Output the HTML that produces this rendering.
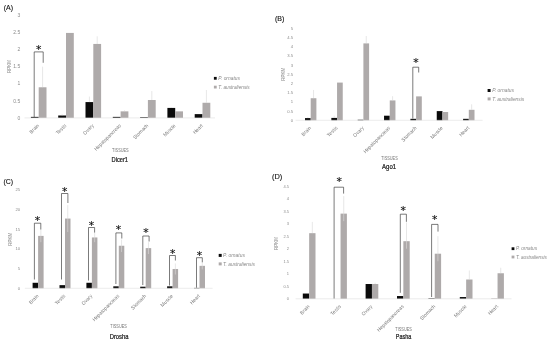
<!DOCTYPE html>
<html><head><meta charset="utf-8"><title>Figure</title>
<style>
html,body{margin:0;padding:0;background:#fff;}
body{width:550px;height:343px;overflow:hidden;}
svg{display:block;}
text{font-family:"Liberation Sans",sans-serif;}
.st{font-family:"DejaVu Sans","Liberation Sans",sans-serif;font-size:10.8px;fill:#111;stroke:#111;stroke-width:0.15px;}
</style></head><body>
<svg width="550" height="343" viewBox="0 0 550 343">
<rect width="550" height="343" fill="#fff"/>
<text x="3.8" y="10.3" font-size="7.3" textLength="9.3" lengthAdjust="spacingAndGlyphs" fill="#111" stroke="#111" stroke-width="0.12">(A)</text>
<text x="20.2" y="119.70" font-size="5.0" fill="#8c8c8c" text-anchor="end">0</text>
<text x="20.2" y="102.50" font-size="5.0" fill="#8c8c8c" text-anchor="end">0.5</text>
<text x="20.2" y="85.30" font-size="5.0" fill="#8c8c8c" text-anchor="end">1</text>
<text x="20.2" y="68.10" font-size="5.0" fill="#8c8c8c" text-anchor="end">1.5</text>
<text x="20.2" y="50.90" font-size="5.0" fill="#8c8c8c" text-anchor="end">2</text>
<text x="20.2" y="33.70" font-size="5.0" fill="#8c8c8c" text-anchor="end">2.5</text>
<text x="20.2" y="16.50" font-size="5.0" fill="#8c8c8c" text-anchor="end">3</text>
<text transform="translate(10.8,66.5) rotate(-90)" font-size="4.5" fill="#8c8c8c" text-anchor="middle">RPKM</text>
<rect x="30.90" y="116.87" width="7.8" height="1.03" fill="#0a0a0a"/>
<rect x="38.70" y="87.28" width="7.8" height="30.62" fill="#aeaaaa"/>
<rect x="58.20" y="115.49" width="7.8" height="2.41" fill="#0a0a0a"/>
<rect x="66.00" y="32.93" width="7.8" height="84.97" fill="#aeaaaa"/>
<rect x="85.50" y="102.08" width="7.8" height="15.82" fill="#0a0a0a"/>
<rect x="93.30" y="43.94" width="7.8" height="73.96" fill="#aeaaaa"/>
<rect x="112.80" y="116.87" width="7.8" height="1.03" fill="#0a0a0a"/>
<rect x="120.60" y="111.36" width="7.8" height="6.54" fill="#aeaaaa"/>
<rect x="140.10" y="117.21" width="7.8" height="0.69" fill="#0a0a0a"/>
<rect x="147.90" y="100.01" width="7.8" height="17.89" fill="#aeaaaa"/>
<rect x="167.40" y="107.92" width="7.8" height="9.98" fill="#0a0a0a"/>
<rect x="175.20" y="111.36" width="7.8" height="6.54" fill="#aeaaaa"/>
<rect x="194.70" y="114.12" width="7.8" height="3.78" fill="#0a0a0a"/>
<rect x="202.50" y="102.76" width="7.8" height="15.14" fill="#aeaaaa"/>
<line x1="24.5" y1="117.9" x2="215" y2="117.9" stroke="#d9d9d9" stroke-width="0.5"/>
<line x1="42.60" y1="66.64" x2="42.60" y2="87.28" stroke="#cfcfcf" stroke-width="0.5"/>
<line x1="97.20" y1="36.37" x2="97.20" y2="43.94" stroke="#cfcfcf" stroke-width="0.5"/>
<line x1="89.40" y1="96.57" x2="89.40" y2="102.08" stroke="#cfcfcf" stroke-width="0.5"/>
<line x1="151.80" y1="91.07" x2="151.80" y2="100.01" stroke="#cfcfcf" stroke-width="0.5"/>
<line x1="206.40" y1="90.04" x2="206.40" y2="102.76" stroke="#cfcfcf" stroke-width="0.5"/>
<line x1="124.50" y1="110.33" x2="124.50" y2="111.36" stroke="#cfcfcf" stroke-width="0.5"/>
<line x1="62.10" y1="114.12" x2="62.10" y2="115.49" stroke="#cfcfcf" stroke-width="0.5"/>
<line x1="171.30" y1="107.24" x2="171.30" y2="107.92" stroke="#cfcfcf" stroke-width="0.5"/>
<text transform="translate(39.50,126.00) rotate(-45) scale(0.95,1)" font-size="5.1" fill="#777777" text-anchor="end">Brain</text>
<text transform="translate(66.80,126.00) rotate(-45) scale(0.95,1)" font-size="5.1" fill="#777777" text-anchor="end">Testis</text>
<text transform="translate(94.10,126.00) rotate(-45) scale(0.95,1)" font-size="5.1" fill="#777777" text-anchor="end">Ovary</text>
<text transform="translate(121.40,126.00) rotate(-45) scale(0.95,1)" font-size="5.1" fill="#777777" text-anchor="end">Hepatopancreas</text>
<text transform="translate(148.70,126.00) rotate(-45) scale(0.95,1)" font-size="5.1" fill="#777777" text-anchor="end">Stomach</text>
<text transform="translate(176.00,126.00) rotate(-45) scale(0.95,1)" font-size="5.1" fill="#777777" text-anchor="end">Muscle</text>
<text transform="translate(203.30,126.00) rotate(-45) scale(0.95,1)" font-size="5.1" fill="#777777" text-anchor="end">Heart</text>
<text x="120.4" y="152" font-size="4.6" textLength="16.6" lengthAdjust="spacingAndGlyphs" fill="#777777" text-anchor="middle">TISSUES</text>
<text x="119.8" y="162.1" font-size="6.6" textLength="16.5" lengthAdjust="spacingAndGlyphs" fill="#1a1a1a" stroke="#1a1a1a" stroke-width="0.22" text-anchor="middle">Dicer1</text>
<rect x="213.9" y="76.90" width="2.8" height="2.8" fill="#0a0a0a"/>
<text x="218.3" y="80.00" font-size="4.9" textLength="21.6" lengthAdjust="spacingAndGlyphs" font-style="italic" fill="#888888">P. ornatus</text>
<rect x="213.9" y="85.70" width="2.8" height="2.8" fill="#aeaaaa"/>
<text x="218.3" y="88.80" font-size="4.9" textLength="31.4" lengthAdjust="spacingAndGlyphs" font-style="italic" fill="#888888">T. australiensis</text>
<path d="M34.2,117 V51.9 H43.2 V62.8" fill="none" stroke="#333" stroke-width="0.65"/>
<text class="st" x="38.7" y="52.82" text-anchor="middle">*</text>
<text x="275" y="20.7" font-size="7.3" textLength="9.4" lengthAdjust="spacingAndGlyphs" fill="#111" stroke="#111" stroke-width="0.12">(B)</text>
<text x="293.1" y="121.81" font-size="4.2" fill="#8c8c8c" text-anchor="end">0</text>
<text x="293.1" y="112.61" font-size="4.2" fill="#8c8c8c" text-anchor="end">0.5</text>
<text x="293.1" y="103.41" font-size="4.2" fill="#8c8c8c" text-anchor="end">1</text>
<text x="293.1" y="94.21" font-size="4.2" fill="#8c8c8c" text-anchor="end">1.5</text>
<text x="293.1" y="85.01" font-size="4.2" fill="#8c8c8c" text-anchor="end">2</text>
<text x="293.1" y="75.81" font-size="4.2" fill="#8c8c8c" text-anchor="end">2.5</text>
<text x="293.1" y="66.61" font-size="4.2" fill="#8c8c8c" text-anchor="end">3</text>
<text x="293.1" y="57.41" font-size="4.2" fill="#8c8c8c" text-anchor="end">3.5</text>
<text x="293.1" y="48.21" font-size="4.2" fill="#8c8c8c" text-anchor="end">4</text>
<text x="293.1" y="39.01" font-size="4.2" fill="#8c8c8c" text-anchor="end">4.5</text>
<text x="293.1" y="29.81" font-size="4.2" fill="#8c8c8c" text-anchor="end">5</text>
<text transform="translate(284.5,74.3) rotate(-90)" font-size="4.5" fill="#8c8c8c" text-anchor="middle">RPKM</text>
<rect x="305.00" y="118.09" width="5.7" height="2.21" fill="#0a0a0a"/>
<rect x="310.70" y="98.22" width="5.7" height="22.08" fill="#aeaaaa"/>
<rect x="331.35" y="117.91" width="5.7" height="2.39" fill="#0a0a0a"/>
<rect x="337.05" y="82.58" width="5.7" height="37.72" fill="#aeaaaa"/>
<rect x="357.70" y="119.75" width="5.7" height="0.55" fill="#0a0a0a"/>
<rect x="363.40" y="43.39" width="5.7" height="76.91" fill="#aeaaaa"/>
<rect x="384.05" y="115.70" width="5.7" height="4.60" fill="#0a0a0a"/>
<rect x="389.75" y="100.43" width="5.7" height="19.87" fill="#aeaaaa"/>
<rect x="410.40" y="118.83" width="5.7" height="1.47" fill="#0a0a0a"/>
<rect x="416.10" y="96.38" width="5.7" height="23.92" fill="#aeaaaa"/>
<rect x="436.75" y="111.10" width="5.7" height="9.20" fill="#0a0a0a"/>
<rect x="442.45" y="112.02" width="5.7" height="8.28" fill="#aeaaaa"/>
<rect x="463.10" y="118.83" width="5.7" height="1.47" fill="#0a0a0a"/>
<rect x="468.80" y="109.81" width="5.7" height="10.49" fill="#aeaaaa"/>
<line x1="295.6" y1="120.3" x2="482.6" y2="120.3" stroke="#d9d9d9" stroke-width="0.5"/>
<line x1="313.55" y1="89.94" x2="313.55" y2="98.22" stroke="#cfcfcf" stroke-width="0.5"/>
<line x1="366.25" y1="36.03" x2="366.25" y2="43.39" stroke="#cfcfcf" stroke-width="0.5"/>
<line x1="392.60" y1="96.20" x2="392.60" y2="100.43" stroke="#cfcfcf" stroke-width="0.5"/>
<line x1="471.65" y1="104.29" x2="471.65" y2="109.81" stroke="#cfcfcf" stroke-width="0.5"/>
<line x1="334.20" y1="115.70" x2="334.20" y2="117.91" stroke="#cfcfcf" stroke-width="0.5"/>
<line x1="307.85" y1="116.99" x2="307.85" y2="118.09" stroke="#cfcfcf" stroke-width="0.5"/>
<text transform="translate(311.50,128.40) rotate(-45) scale(0.95,1)" font-size="5.1" fill="#777777" text-anchor="end">Brain</text>
<text transform="translate(337.85,128.40) rotate(-45) scale(0.95,1)" font-size="5.1" fill="#777777" text-anchor="end">Testis</text>
<text transform="translate(364.20,128.40) rotate(-45) scale(0.95,1)" font-size="5.1" fill="#777777" text-anchor="end">Ovary</text>
<text transform="translate(390.55,128.40) rotate(-45) scale(0.95,1)" font-size="5.1" fill="#777777" text-anchor="end">Hepatopancreas</text>
<text transform="translate(416.90,128.40) rotate(-45) scale(0.95,1)" font-size="5.1" fill="#777777" text-anchor="end">Stomach</text>
<text transform="translate(443.25,128.40) rotate(-45) scale(0.95,1)" font-size="5.1" fill="#777777" text-anchor="end">Muscle</text>
<text transform="translate(469.60,128.40) rotate(-45) scale(0.95,1)" font-size="5.1" fill="#777777" text-anchor="end">Heart</text>
<text x="389.5" y="160.2" font-size="4.6" textLength="16.6" lengthAdjust="spacingAndGlyphs" fill="#777777" text-anchor="middle">TISSUES</text>
<text x="389.1" y="168.8" font-size="6.6" textLength="14.0" lengthAdjust="spacingAndGlyphs" fill="#1a1a1a" stroke="#1a1a1a" stroke-width="0.22" text-anchor="middle">Ago1</text>
<rect x="487.6" y="89.00" width="3.0" height="3.0" fill="#0a0a0a"/>
<text x="492.2" y="92.20" font-size="4.9" textLength="21.8" lengthAdjust="spacingAndGlyphs" font-style="italic" fill="#888888">P. ornatus</text>
<rect x="487.6" y="97.40" width="3.0" height="3.0" fill="#aeaaaa"/>
<text x="492.2" y="100.60" font-size="4.9" textLength="32.0" lengthAdjust="spacingAndGlyphs" font-style="italic" fill="#888888">T. australiensis</text>
<path d="M412.8,118.6 V67.2 H418.7 V72.5" fill="none" stroke="#333" stroke-width="0.65"/>
<text class="st" x="415.9" y="65.72" text-anchor="middle">*</text>
<text x="3.5" y="183.9" font-size="7.3" textLength="9.6" lengthAdjust="spacingAndGlyphs" fill="#111" stroke="#111" stroke-width="0.12">(C)</text>
<text x="20.2" y="289.85" font-size="4.3" fill="#8c8c8c" text-anchor="end">0</text>
<text x="20.2" y="270.15" font-size="4.3" fill="#8c8c8c" text-anchor="end">5</text>
<text x="20.2" y="250.45" font-size="4.3" fill="#8c8c8c" text-anchor="end">10</text>
<text x="20.2" y="230.75" font-size="4.3" fill="#8c8c8c" text-anchor="end">15</text>
<text x="20.2" y="211.05" font-size="4.3" fill="#8c8c8c" text-anchor="end">20</text>
<text x="20.2" y="191.35" font-size="4.3" fill="#8c8c8c" text-anchor="end">25</text>
<text transform="translate(12.2,239.3) rotate(-90)" font-size="4.5" fill="#8c8c8c" text-anchor="middle">RPKM</text>
<rect x="32.60" y="282.78" width="5.5" height="5.52" fill="#0a0a0a"/>
<rect x="38.10" y="235.90" width="5.5" height="52.40" fill="#aeaaaa"/>
<rect x="59.50" y="285.15" width="5.5" height="3.15" fill="#0a0a0a"/>
<rect x="65.00" y="218.56" width="5.5" height="69.74" fill="#aeaaaa"/>
<rect x="86.40" y="282.78" width="5.5" height="5.52" fill="#0a0a0a"/>
<rect x="91.90" y="237.47" width="5.5" height="50.83" fill="#aeaaaa"/>
<rect x="113.30" y="286.33" width="5.5" height="1.97" fill="#0a0a0a"/>
<rect x="118.80" y="245.75" width="5.5" height="42.55" fill="#aeaaaa"/>
<rect x="140.20" y="286.72" width="5.5" height="1.58" fill="#0a0a0a"/>
<rect x="145.70" y="248.11" width="5.5" height="40.19" fill="#aeaaaa"/>
<rect x="167.10" y="286.33" width="5.5" height="1.97" fill="#0a0a0a"/>
<rect x="172.60" y="268.99" width="5.5" height="19.31" fill="#aeaaaa"/>
<rect x="194.00" y="287.91" width="5.5" height="0.39" fill="#0a0a0a"/>
<rect x="199.50" y="265.84" width="5.5" height="22.46" fill="#aeaaaa"/>
<line x1="24.9" y1="288.3" x2="212.6" y2="288.3" stroke="#d9d9d9" stroke-width="0.5"/>
<line x1="40.85" y1="229.59" x2="40.85" y2="235.90" stroke="#cfcfcf" stroke-width="0.5"/>
<line x1="40.85" y1="235.90" x2="40.85" y2="242.20" stroke="#e6e4e4" stroke-width="0.5"/>
<line x1="67.75" y1="205.17" x2="67.75" y2="218.56" stroke="#cfcfcf" stroke-width="0.5"/>
<line x1="67.75" y1="218.56" x2="67.75" y2="231.96" stroke="#e6e4e4" stroke-width="0.5"/>
<line x1="94.65" y1="232.75" x2="94.65" y2="237.47" stroke="#cfcfcf" stroke-width="0.5"/>
<line x1="94.65" y1="237.47" x2="94.65" y2="242.20" stroke="#e6e4e4" stroke-width="0.5"/>
<line x1="121.55" y1="239.44" x2="121.55" y2="245.75" stroke="#cfcfcf" stroke-width="0.5"/>
<line x1="121.55" y1="245.75" x2="121.55" y2="252.05" stroke="#e6e4e4" stroke-width="0.5"/>
<line x1="148.45" y1="242.20" x2="148.45" y2="248.11" stroke="#cfcfcf" stroke-width="0.5"/>
<line x1="148.45" y1="248.11" x2="148.45" y2="254.02" stroke="#e6e4e4" stroke-width="0.5"/>
<line x1="175.35" y1="263.48" x2="175.35" y2="268.99" stroke="#cfcfcf" stroke-width="0.5"/>
<line x1="175.35" y1="268.99" x2="175.35" y2="274.51" stroke="#e6e4e4" stroke-width="0.5"/>
<line x1="202.25" y1="262.30" x2="202.25" y2="265.84" stroke="#cfcfcf" stroke-width="0.5"/>
<line x1="202.25" y1="265.84" x2="202.25" y2="269.39" stroke="#e6e4e4" stroke-width="0.5"/>
<text transform="translate(38.90,296.40) rotate(-45) scale(0.95,1)" font-size="5.1" fill="#777777" text-anchor="end">Brain</text>
<text transform="translate(65.80,296.40) rotate(-45) scale(0.95,1)" font-size="5.1" fill="#777777" text-anchor="end">Testis</text>
<text transform="translate(92.70,296.40) rotate(-45) scale(0.95,1)" font-size="5.1" fill="#777777" text-anchor="end">Ovary</text>
<text transform="translate(119.60,296.40) rotate(-45) scale(0.95,1)" font-size="5.1" fill="#777777" text-anchor="end">Hepatopancreas</text>
<text transform="translate(146.50,296.40) rotate(-45) scale(0.95,1)" font-size="5.1" fill="#777777" text-anchor="end">Stomach</text>
<text transform="translate(173.40,296.40) rotate(-45) scale(0.95,1)" font-size="5.1" fill="#777777" text-anchor="end">Muscle</text>
<text transform="translate(200.30,296.40) rotate(-45) scale(0.95,1)" font-size="5.1" fill="#777777" text-anchor="end">Heart</text>
<text x="118.6" y="328.4" font-size="4.6" textLength="16.6" lengthAdjust="spacingAndGlyphs" fill="#777777" text-anchor="middle">TISSUES</text>
<text x="119.1" y="338.5" font-size="6.6" textLength="18.8" lengthAdjust="spacingAndGlyphs" fill="#1a1a1a" stroke="#1a1a1a" stroke-width="0.22" text-anchor="middle">Drosha</text>
<rect x="218.7" y="253.90" width="3.0" height="3.0" fill="#0a0a0a"/>
<text x="223.1" y="257.10" font-size="4.9" textLength="21.8" lengthAdjust="spacingAndGlyphs" font-style="italic" fill="#888888">P. ornatus</text>
<rect x="218.7" y="262.40" width="3.0" height="3.0" fill="#aeaaaa"/>
<text x="223.1" y="265.60" font-size="4.9" textLength="31.8" lengthAdjust="spacingAndGlyphs" font-style="italic" fill="#888888">T. australiensis</text>
<path d="M34.4,279.5 V223.2 H40.8 V229.5" fill="none" stroke="#333" stroke-width="0.65"/>
<text class="st" x="37.5" y="224.22" text-anchor="middle">*</text>
<path d="M61.5,279.5 V193.5 H67.9 V203" fill="none" stroke="#333" stroke-width="0.65"/>
<text class="st" x="64.6" y="195.32" text-anchor="middle">*</text>
<path d="M88.5,280.5 V227.5 H94.6 V232.6" fill="none" stroke="#333" stroke-width="0.65"/>
<text class="st" x="91.5" y="228.92" text-anchor="middle">*</text>
<path d="M115.9,284 V232.9 H121.8 V238.5" fill="none" stroke="#333" stroke-width="0.65"/>
<text class="st" x="118.5" y="233.22" text-anchor="middle">*</text>
<path d="M142.8,285 V236 H149.1 V241.5" fill="none" stroke="#333" stroke-width="0.65"/>
<text class="st" x="145.9" y="236.32" text-anchor="middle">*</text>
<path d="M169.5,285.5 V255.5 H175.4 V260.5" fill="none" stroke="#333" stroke-width="0.65"/>
<text class="st" x="172.7" y="257.02" text-anchor="middle">*</text>
<path d="M196.5,287.7 V257.7 H202.3 V262.3" fill="none" stroke="#333" stroke-width="0.65"/>
<text class="st" x="199.5" y="258.82" text-anchor="middle">*</text>
<text x="272" y="178.6" font-size="7.3" textLength="10.3" lengthAdjust="spacingAndGlyphs" fill="#111" stroke="#111" stroke-width="0.12">(D)</text>
<text x="289.1" y="300.24" font-size="4.0" fill="#8c8c8c" text-anchor="end">0</text>
<text x="289.1" y="287.72" font-size="4.0" fill="#8c8c8c" text-anchor="end">0.5</text>
<text x="289.1" y="275.19" font-size="4.0" fill="#8c8c8c" text-anchor="end">1</text>
<text x="289.1" y="262.67" font-size="4.0" fill="#8c8c8c" text-anchor="end">1.5</text>
<text x="289.1" y="250.14" font-size="4.0" fill="#8c8c8c" text-anchor="end">2</text>
<text x="289.1" y="237.62" font-size="4.0" fill="#8c8c8c" text-anchor="end">2.5</text>
<text x="289.1" y="225.09" font-size="4.0" fill="#8c8c8c" text-anchor="end">3</text>
<text x="289.1" y="212.56" font-size="4.0" fill="#8c8c8c" text-anchor="end">3.5</text>
<text x="289.1" y="200.04" font-size="4.0" fill="#8c8c8c" text-anchor="end">4</text>
<text x="289.1" y="187.51" font-size="4.0" fill="#8c8c8c" text-anchor="end">4.5</text>
<text transform="translate(277.8,243.6) rotate(-90)" font-size="4.5" fill="#8c8c8c" text-anchor="middle">RPKM</text>
<rect x="302.80" y="293.54" width="6.35" height="5.26" fill="#0a0a0a"/>
<rect x="309.15" y="233.17" width="6.35" height="65.63" fill="#aeaaaa"/>
<rect x="340.55" y="213.63" width="6.35" height="85.17" fill="#aeaaaa"/>
<rect x="365.60" y="284.02" width="6.35" height="14.78" fill="#0a0a0a"/>
<rect x="371.95" y="284.02" width="6.35" height="14.78" fill="#aeaaaa"/>
<rect x="397.00" y="296.04" width="6.35" height="2.76" fill="#0a0a0a"/>
<rect x="403.35" y="241.19" width="6.35" height="57.61" fill="#aeaaaa"/>
<rect x="428.40" y="298.30" width="6.35" height="0.50" fill="#0a0a0a"/>
<rect x="434.75" y="253.71" width="6.35" height="45.09" fill="#aeaaaa"/>
<rect x="459.80" y="297.05" width="6.35" height="1.75" fill="#0a0a0a"/>
<rect x="466.15" y="279.51" width="6.35" height="19.29" fill="#aeaaaa"/>
<rect x="491.20" y="298.30" width="6.35" height="0.50" fill="#aeaaaa"/>
<rect x="497.55" y="273.25" width="6.35" height="25.55" fill="#aeaaaa"/>
<line x1="295.6" y1="298.8" x2="511.5" y2="298.8" stroke="#d9d9d9" stroke-width="0.5"/>
<line x1="312.32" y1="221.90" x2="312.32" y2="233.17" stroke="#cfcfcf" stroke-width="0.5"/>
<line x1="343.72" y1="196.10" x2="343.72" y2="213.63" stroke="#cfcfcf" stroke-width="0.5"/>
<line x1="343.72" y1="213.63" x2="343.72" y2="221.15" stroke="#e6e4e4" stroke-width="0.5"/>
<line x1="406.52" y1="222.40" x2="406.52" y2="241.19" stroke="#cfcfcf" stroke-width="0.5"/>
<line x1="406.52" y1="241.19" x2="406.52" y2="248.70" stroke="#e6e4e4" stroke-width="0.5"/>
<line x1="437.92" y1="236.18" x2="437.92" y2="253.71" stroke="#cfcfcf" stroke-width="0.5"/>
<line x1="437.92" y1="253.71" x2="437.92" y2="261.23" stroke="#e6e4e4" stroke-width="0.5"/>
<line x1="469.32" y1="270.49" x2="469.32" y2="279.51" stroke="#cfcfcf" stroke-width="0.5"/>
<line x1="500.72" y1="267.74" x2="500.72" y2="273.25" stroke="#cfcfcf" stroke-width="0.5"/>
<line x1="375.12" y1="282.77" x2="375.12" y2="284.02" stroke="#cfcfcf" stroke-width="0.5"/>
<text transform="translate(309.95,306.90) rotate(-45) scale(0.95,1)" font-size="5.1" fill="#777777" text-anchor="end">Brain</text>
<text transform="translate(341.35,306.90) rotate(-45) scale(0.95,1)" font-size="5.1" fill="#777777" text-anchor="end">Testis</text>
<text transform="translate(372.75,306.90) rotate(-45) scale(0.95,1)" font-size="5.1" fill="#777777" text-anchor="end">Ovary</text>
<text transform="translate(404.15,306.90) rotate(-45) scale(0.95,1)" font-size="5.1" fill="#777777" text-anchor="end">Hepatopancreas</text>
<text transform="translate(435.55,306.90) rotate(-45) scale(0.95,1)" font-size="5.1" fill="#777777" text-anchor="end">Stomach</text>
<text transform="translate(466.95,306.90) rotate(-45) scale(0.95,1)" font-size="5.1" fill="#777777" text-anchor="end">Muscle</text>
<text transform="translate(498.35,306.90) rotate(-45) scale(0.95,1)" font-size="5.1" fill="#777777" text-anchor="end">Heart</text>
<text x="403.6" y="330.7" font-size="4.6" textLength="16.6" lengthAdjust="spacingAndGlyphs" fill="#777777" text-anchor="middle">TISSUES</text>
<text x="403.5" y="338.9" font-size="6.6" textLength="15.3" lengthAdjust="spacingAndGlyphs" fill="#1a1a1a" stroke="#1a1a1a" stroke-width="0.22" text-anchor="middle">Pasha</text>
<rect x="511.6" y="247.30" width="2.8" height="2.8" fill="#0a0a0a"/>
<text x="516" y="250.40" font-size="4.9" textLength="21.1" lengthAdjust="spacingAndGlyphs" font-style="italic" fill="#888888">P. ornatus</text>
<rect x="511.6" y="255.60" width="2.8" height="2.8" fill="#aeaaaa"/>
<text x="516" y="258.70" font-size="4.9" textLength="30.9" lengthAdjust="spacingAndGlyphs" font-style="italic" fill="#888888">T. australiensis</text>
<path d="M334.1,298.5 V187.2 H343.6 V193.6" fill="none" stroke="#333" stroke-width="0.65"/>
<text class="st" x="339.2" y="184.92" text-anchor="middle">*</text>
<path d="M400.3,292.8 V214.2 H406.4 V221.8" fill="none" stroke="#333" stroke-width="0.65"/>
<text class="st" x="403.3" y="213.92" text-anchor="middle">*</text>
<path d="M431.6,297 V224.4 H438 V231.6" fill="none" stroke="#333" stroke-width="0.65"/>
<text class="st" x="434.6" y="223.42" text-anchor="middle">*</text>
</svg>
</body></html>
